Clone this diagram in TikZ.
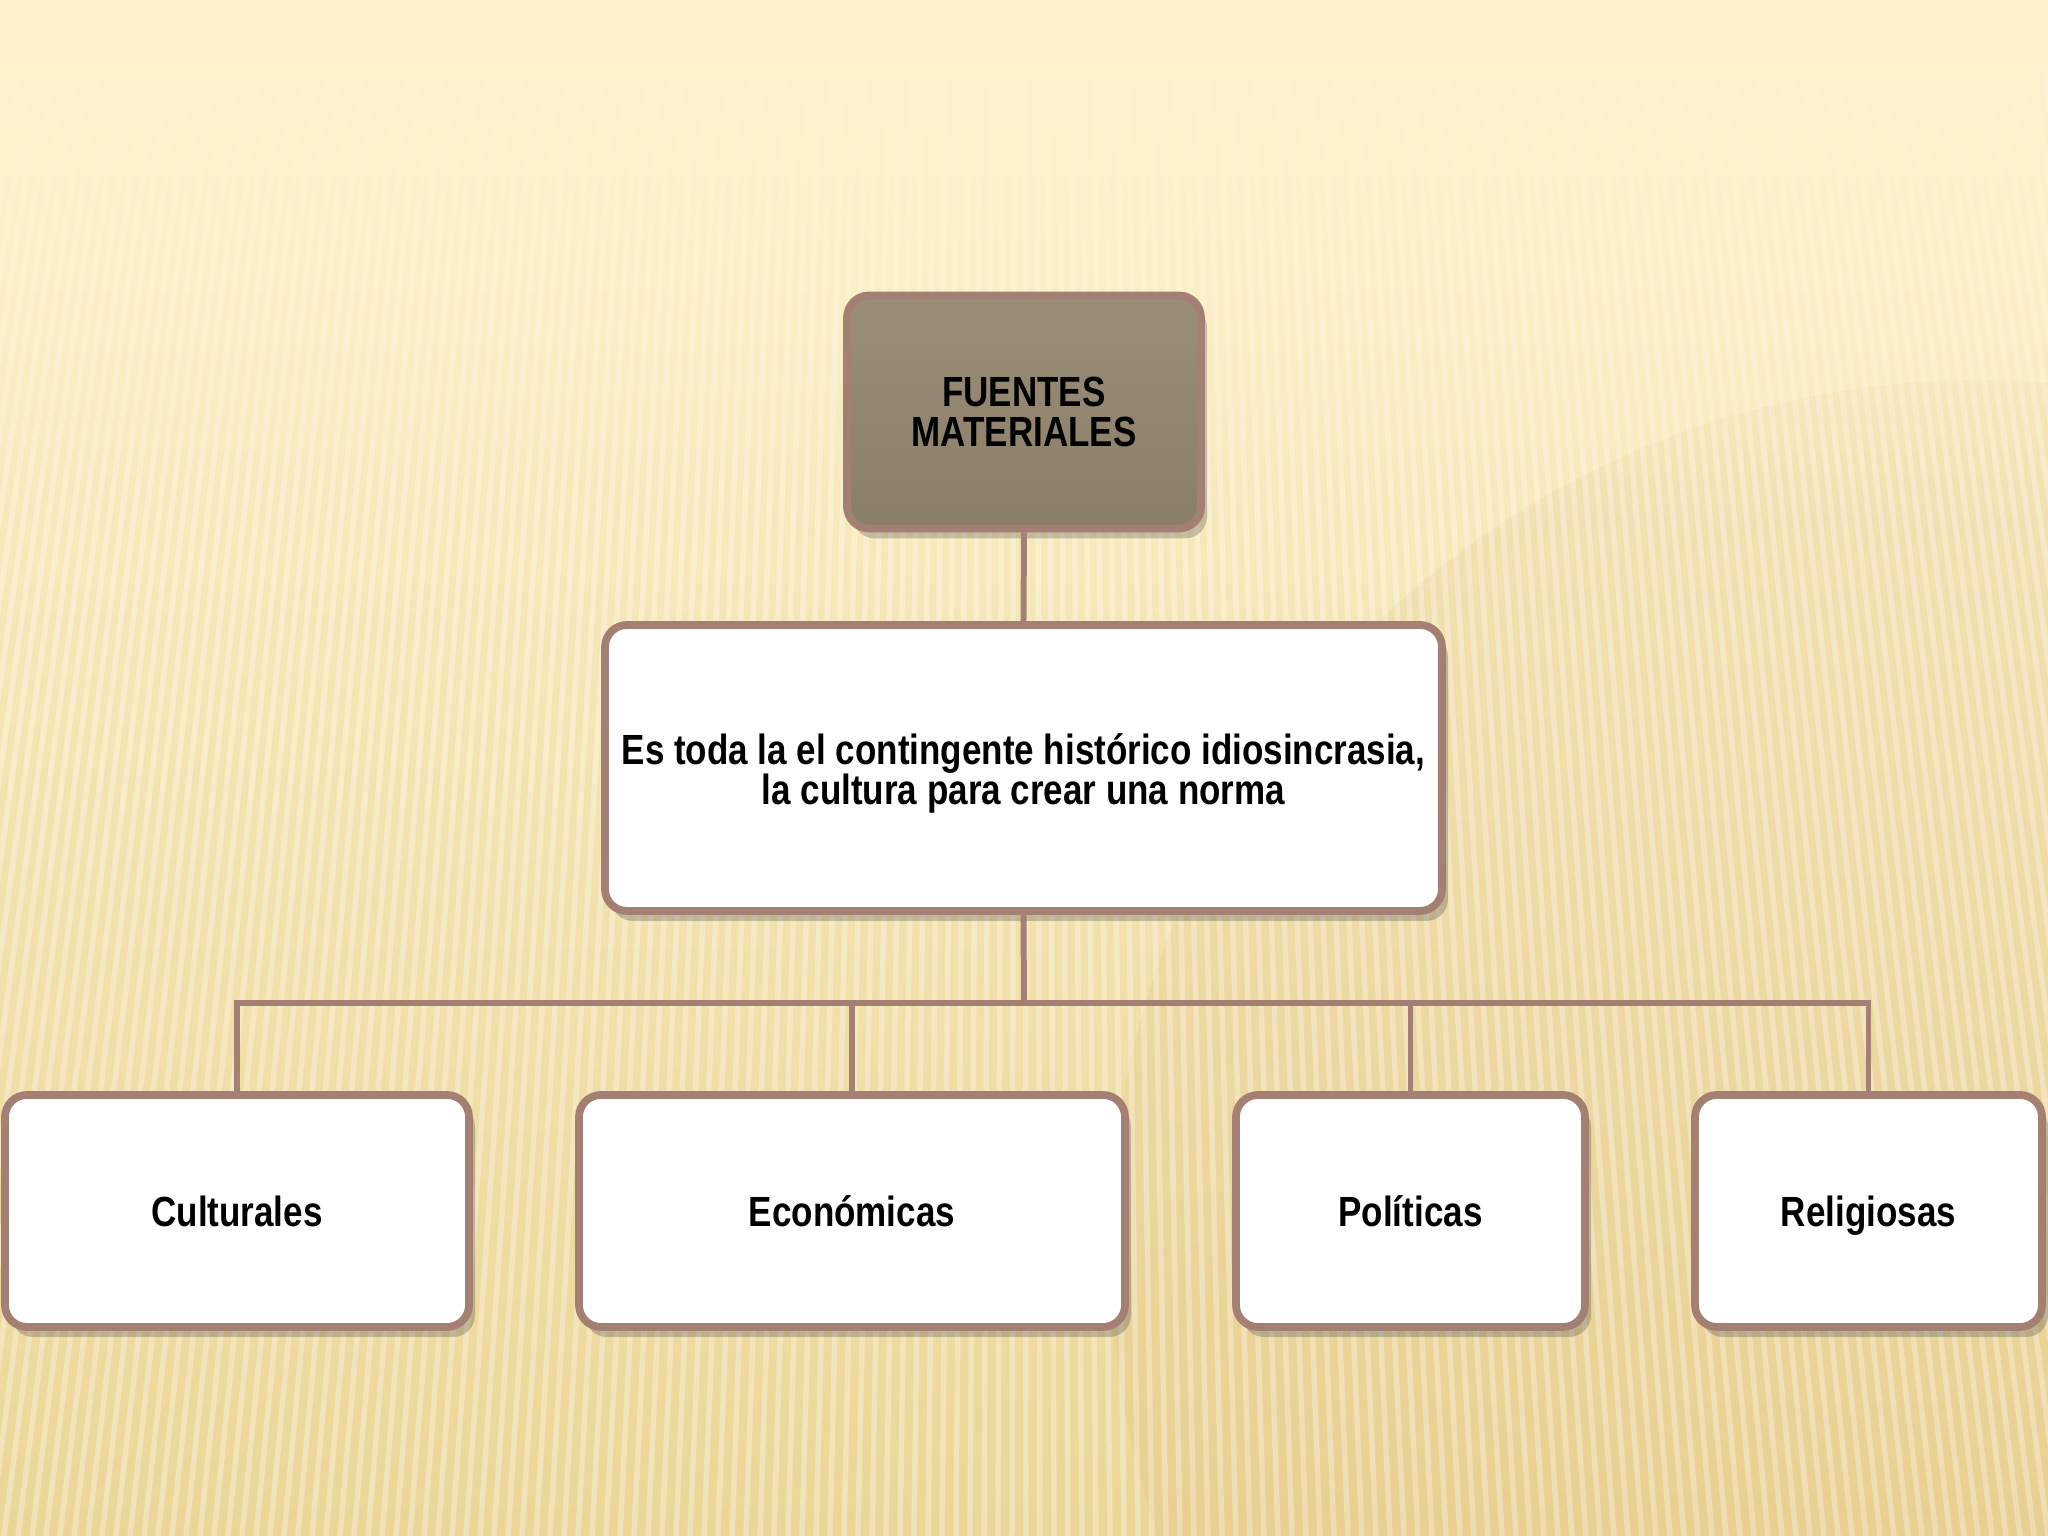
\documentclass[tikz,border=0pt]{standalone}
\usepackage{fontspec}
\setmainfont{Liberation Sans}[FakeStretch=0.83]
\usetikzlibrary{shadows,fadings}
\definecolor{bgtop}{HTML}{FDF2CD}
\definecolor{bgbot}{HTML}{ECD597}
\definecolor{rim}{HTML}{A47F73}
\definecolor{boxtop}{HTML}{9A8E78}
\definecolor{boxbot}{HTML}{8A7E69}
\tikzfading[name=topfade, top color=transparent!0, bottom color=transparent!100]
\tikzset{
	box/.style={draw=rim, line width=2.2pt, rounded corners=0.22cm, fill=white, inner sep=0pt, align=center,
		font=\bfseries\fontsize{12}{11.4}\selectfont,
		drop shadow={shadow xshift=0.06cm, shadow yshift=-0.1cm, opacity=0.3, fill=black!70}},
	leaf/.style={box, minimum height=2.32cm, text height=2.1ex, text depth=0.4ex},
	link/.style={draw=rim, line width=1.7pt},
}

\begin{document}
\begin{tikzpicture}
			%%%%% START %%%%%
			\useasboundingbox (0,0) rectangle (20.48,15.36);
			
			% background
			\shade[top color=bgtop, bottom color=bgbot] (0,0) rectangle (20.48,15.36);
			\fill[brown!60!bgbot, opacity=0.1] (19.8,2.86) circle (8.7);
			\begin{scope}
				\clip (0,0) rectangle (20.48,15.36);
				\foreach \b in {-12,-11.86,...,32}
					\draw[white, opacity=0.3, line width=0.055cm] (\b,0) -- (10.24,80);
			\end{scope}
			\fill[bgtop, path fading=topfade] (0,10) rectangle (20.48,15.36);
			\fill[bgtop] (0,14.6) rectangle (20.48,15.36);
			
			% boxes
			\node[box, top color=boxtop, bottom color=boxbot, minimum width=3.54cm, minimum height=2.33cm] (fuentes) at (10.24,11.24) {FUENTES\\MATERIALES};
			
			\node[box, minimum width=8.37cm, minimum height=2.86cm, text height=23.1pt, text depth=2.5pt] (def) at (10.235,7.68) {Es toda la el contingente histórico idiosincrasia,\\la cultura para crear una norma};
			
			\node[leaf, minimum width=4.64cm] (cult) at (2.37,3.25) {Culturales};
			\node[leaf, minimum width=5.46cm] (econ) at (8.52,3.25) {Económicas};
			\node[leaf, minimum width=3.49cm] (poli) at (14.105,3.25) {Políticas};
			\node[leaf, minimum width=3.47cm] (reli) at (18.685,3.25) {Religiosas};
			
			% connectors
			\coordinate (bus) at (10.24,5.33);
			\draw[link] (fuentes.south) -- (def.north);
			\draw[link] (def.south) -- (bus);
			\foreach \n in {cult,econ,poli,reli}
				\draw[link] (bus) -| (\n.north);
			
			%%%%% END %%%%%
\end{tikzpicture}
\end{document}
